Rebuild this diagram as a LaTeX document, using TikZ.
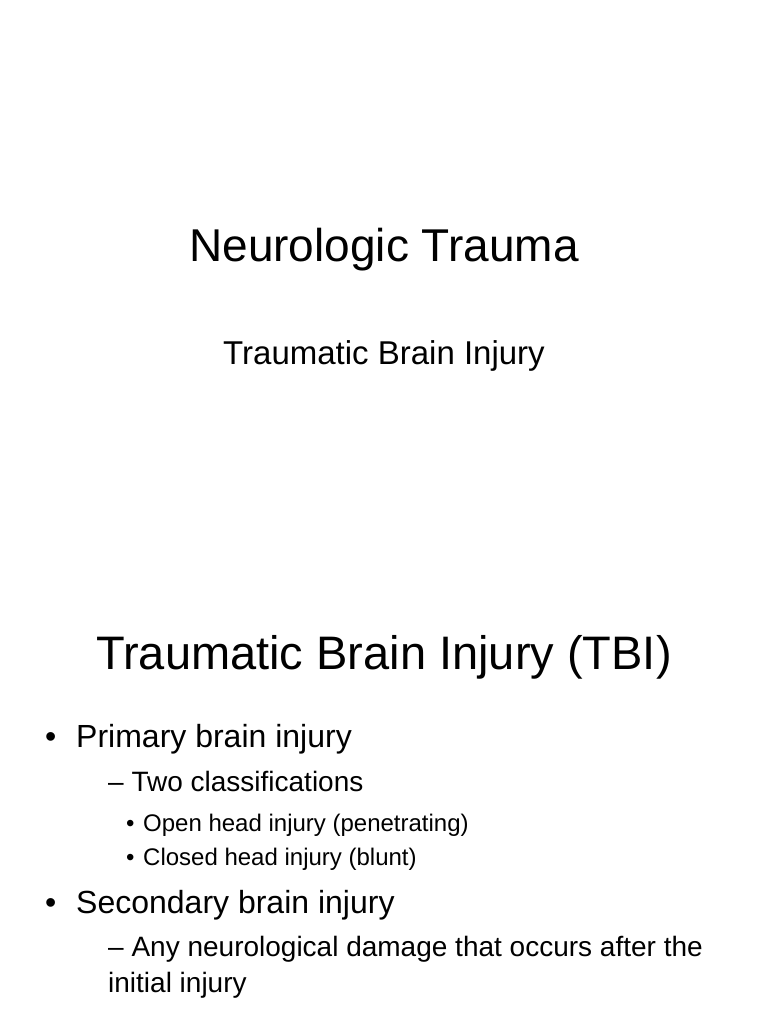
\documentclass[tikz,border=0pt]{standalone}
\usepackage{fontspec}
\setmainfont{Liberation Sans}
\begin{document}
\begin{tikzpicture}[x=1pt,y=1pt,
  t/.style={inner sep=0pt,anchor=base west},
  c/.style={inner sep=0pt,anchor=base}]
\useasboundingbox[fill=white] (0,0) rectangle (768,1024);
\node[c,font=\fontsize{46}{50}\selectfont] (title1) at (384,762) {Neurologic Trauma};
\node[c,font=\fontsize{33}{38}\selectfont] (sub1) at (384,659) {Traumatic Brain Injury};
\node[c,font=\fontsize{47}{52}\selectfont] (title2) at (384,354) {Traumatic Brain Injury (TBI)};
\node[t,font=\fontsize{32}{36}\selectfont] (b1) at (45,276) {•};
\node[t,font=\fontsize{32}{36}\selectfont] (l1) at (76,276) {Primary brain injury};
\node[t,font=\fontsize{28}{32}\selectfont] (l2) at (108,232) {– Two classifications};
\node[t,font=\fontsize{24}{28}\selectfont] (b3) at (126,192) {•};
\node[t,font=\fontsize{24}{28}\selectfont] (l3) at (143,192) {Open head injury (penetrating)};
\node[t,font=\fontsize{24}{28}\selectfont] (b4) at (126,158) {•};
\node[t,font=\fontsize{24}{28}\selectfont] (l4) at (143,158) {Closed head injury (blunt)};
\node[t,font=\fontsize{32}{36}\selectfont] (b5) at (45,110) {•};
\node[t,font=\fontsize{32}{36}\selectfont] (l5) at (76,110) {Secondary brain injury};
\node[t,font=\fontsize{28}{32}\selectfont] (l6) at (108,67) {– Any neurological damage that occurs after the};
\node[t,font=\fontsize{28}{32}\selectfont] (l7) at (108,31) {initial injury};
\end{tikzpicture}
\end{document}
